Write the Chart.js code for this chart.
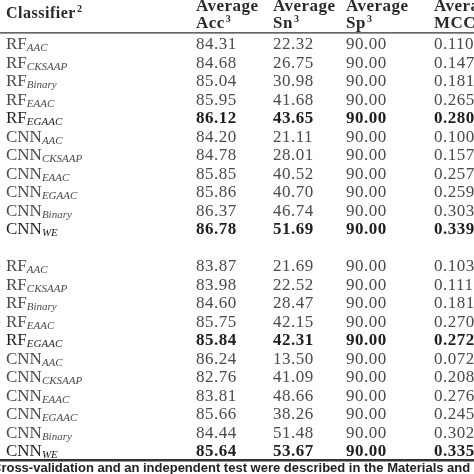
<!DOCTYPE html>
<html><head><meta charset="utf-8">
<script src="https://cdn.jsdelivr.net/npm/chart.js@4.4.1/dist/chart.umd.min.js"></script>
<style>html,body{margin:0;padding:0;background:#fff;overflow:hidden}#c{display:block}</style>
</head><body>
<canvas id="c" width="474" height="474"></canvas>
<script>
// Table data
const models = ["RF","RF","RF","RF","RF","CNN","CNN","CNN","CNN","CNN","CNN", "",
                "RF","RF","RF","RF","RF","CNN","CNN","CNN","CNN","CNN","CNN"];
const features = ["AAC","CKSAAP","Binary","EAAC","EGAAC","AAC","CKSAAP","EAAC","EGAAC","Binary","WE", "",
                  "AAC","CKSAAP","Binary","EAAC","EGAAC","AAC","CKSAAP","EAAC","EGAAC","Binary","WE"];
const acc = ["84.31","84.68","85.04","85.95","86.12","84.20","84.78","85.85","85.86","86.37","86.78", "",
             "83.87","83.98","84.60","85.75","85.84","86.24","82.76","83.81","85.66","84.44","85.64"];
const sn = ["22.32","26.75","30.98","41.68","43.65","21.11","28.01","40.52","40.70","46.74","51.69", "",
            "21.69","22.52","28.47","42.15","42.31","13.50","41.09","48.66","38.26","51.48","53.67"];
const sp = ["90.00","90.00","90.00","90.00","90.00","90.00","90.00","90.00","90.00","90.00","90.00", "",
            "90.00","90.00","90.00","90.00","90.00","90.00","90.00","90.00","90.00","90.00","90.00"];
const mcc = ["0.110","0.147","0.181","0.265","0.280","0.100","0.157","0.257","0.259","0.303","0.339", "",
             "0.103","0.111","0.181","0.270","0.272","0.072","0.208","0.276","0.245","0.302","0.335"];
const boldRows = [4, 10, 16, 22];
const headers = [["Average","Acc","3"],["Average","Sn","3"],["Average","Sp","3"],["Average","MCC","3"]];
const footnote = "Cross-validation and an independent test were described in the Materials and Methods.";

// layout (x pixel positions of each column's left edge)
const colX = [6, 196, 273, 346, 434];
const columns = [acc, sn, sp, mcc];

const tablePlugin = {
  id: "table",
  afterDraw(chart) {
    const ctx = chart.ctx, xs = chart.scales.x, ys = chart.scales.y;
    const X = v => xs.getPixelForValue(v), Y = v => ys.getPixelForValue(v);
    ctx.save();
    ctx.textBaseline = "alphabetic";
    // header
    ctx.fillStyle = "#2a2a2a";
    ctx.letterSpacing = "0.5px";
    ctx.font = "bold 16px 'Liberation Serif'";
    ctx.fillText("Classifier", X(colX[0]), Y(-1.35));
    let w = ctx.measureText("Classifier").width;
    ctx.font = "bold 10px 'Liberation Serif'";
    ctx.fillText("2", X(colX[0]) + w + 1, Y(-1.7));
    headers.forEach((h, i) => {
      const x = X(colX[i + 1]);
      ctx.font = "bold 17px 'Liberation Serif'";
      ctx.fillText(h[0], x, Y(-1.75));
      ctx.fillText(h[1], x, Y(-0.8));
      const hw = ctx.measureText(h[1]).width;
      ctx.font = "bold 10px 'Liberation Serif'";
      ctx.fillText(h[2], x + hw + 1, Y(-1.15));
    });
    // rules
    ctx.strokeStyle = "#333";
    ctx.lineWidth = 1.2;
    ctx.beginPath(); ctx.moveTo(0, Y(-0.55)); ctx.lineTo(474, Y(-0.55)); ctx.stroke();
    ctx.lineWidth = 2.5;
    ctx.beginPath(); ctx.moveTo(0, Y(22.55)); ctx.lineTo(474, Y(22.55)); ctx.stroke();
    // rows
    models.forEach((m, r) => {
      if (!m) return;
      const bold = boldRows.includes(r);
      const y = Y(r) + 6;
      ctx.fillStyle = bold ? "#1e1e1e" : "#4a4a4a";
      ctx.letterSpacing = "0px";
      ctx.font = "17px 'Liberation Serif'";
      ctx.fillText(m, X(colX[0]), y);
      const mw = ctx.measureText(m).width;
      ctx.font = "italic 11px 'Liberation Serif'";
      ctx.fillText(features[r], X(colX[0]) + mw, y + 2);
      ctx.letterSpacing = "0.5px";
      ctx.font = (bold ? "bold " : "") + "17px 'Liberation Serif'";
      columns.forEach((col, i) => ctx.fillText(col[r], X(colX[i + 1]), y));
    });
    // footnote
    ctx.fillStyle = "#222";
    ctx.letterSpacing = "0px";
    ctx.font = "bold 13px 'Liberation Sans'";
    ctx.fillText(footnote, X(-8), Y(23.2));
    ctx.restore();
  }
};

new Chart(document.getElementById("c"), {
  type: "scatter",
  data: { datasets: [{ data: models.map((m, r) => ({ x: 0, y: r })), pointRadius: 0 }] },
  options: {
    responsive: false,
    animation: false,
    layout: { padding: 0 },
    plugins: { legend: { display: false }, tooltip: { enabled: false } },
    scales: {
      x: { type: "linear", min: 0, max: 474, display: false },
      y: { type: "linear", min: -43 / 18.5, max: (474 - 43) / 18.5, reverse: true, display: false }
    }
  },
  plugins: [tablePlugin]
});
</script>
</body></html>
